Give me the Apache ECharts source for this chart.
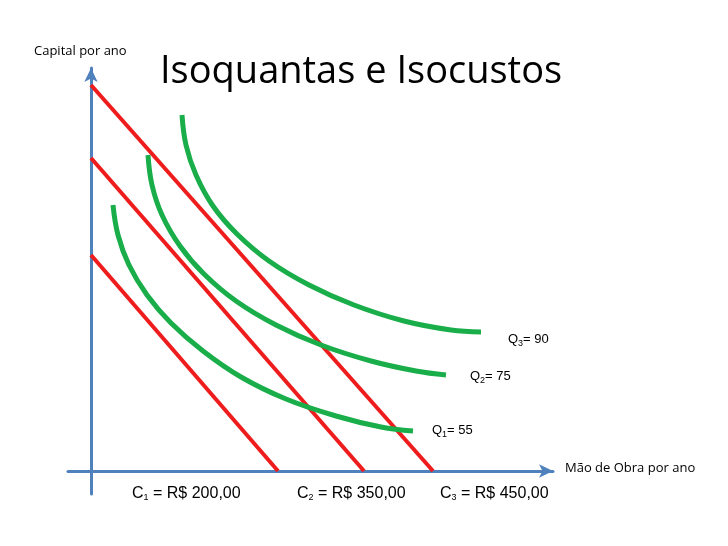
<!DOCTYPE html>
<html>
<head>
<meta charset="utf-8">
<title>Isoquantas e Isocustos</title>
<script src="https://cdn.jsdelivr.net/npm/echarts@6/dist/echarts.min.js"></script>
</head>
<body style="margin:0;background:#fff">
<div id="main" style="width:728px;height:546px;"></div>
<script type="text/javascript">
// isocost lines [x,y] endpoints
var isoC1 = [[0, 216], [187, 0]];
var isoC2 = [[0, 313], [273, 0]];
var isoC3 = [[0, 386], [342, 0]];
// isoquants
var isoQ1 = [[22,266],[27,236],[38,206],[56,176],[80,148],[112,120],[150,94],[195,72],[245,55],[290,44],[322,40]];
var isoQ2 = [[57,316],[61,286],[71,256],[89,225],[113,197],[145,170],[185,146],[230,126],[280,110],[325,100],[355,96]];
var isoQ3 = [[91,356],[95,326],[105,296],[122,265],[146,237],[178,210],[218,186],[263,166],[313,150],[360,141],[390,139]];

var blue = '#4f81bd', red = '#ee1c1c', green = '#1aae4a';
var chart = echarts.init(document.getElementById('main'));

function redLine(d) { return {type:'line', data:d, symbol:'none', lineStyle:{color:red, width:4}}; }
function greenLine(d) { return {type:'line', data:d, symbol:'none', smooth:0.4, lineStyle:{color:green, width:5}}; }
function txt(x, y, rich, size, font) {
    return {type:'text', left:x, top:y, style:{text:rich, fontSize:size, fontFamily:font||'Liberation Sans', fill:'#000',
        rich:{s:{fontSize:9, fontFamily:'Liberation Sans', verticalAlign:'bottom', padding:[8,0,0,0]}}}};
}

chart.setOption({
    animation:false,
    grid:{left:68, top:68, width:485, height:426},
    xAxis:{type:'value', min:-23, max:462, axisLine:{onZero:true, lineStyle:{color:blue, width:3}, symbol:['none','arrow'], symbolSize:[10,14]},
        axisTick:{show:false}, axisLabel:{show:false}, splitLine:{show:false}},
    yAxis:{type:'value', min:-23, max:403, axisLine:{onZero:true, lineStyle:{color:blue, width:3}, symbol:['none','arrow'], symbolSize:[10,14]},
        axisTick:{show:false}, axisLabel:{show:false}, splitLine:{show:false}},
    series:[
        redLine(isoC1), redLine(isoC2), redLine(isoC3),
        greenLine(isoQ1), greenLine(isoQ2), greenLine(isoQ3)
    ],
    graphic:[
        txt(160, 53, 'Isoquantas e Isocustos', 38, 'Open Sans'),
        txt(34, 45, 'Capital por ano', 13, 'Open Sans'),
        txt(565, 462, 'Mão de Obra por ano', 13, 'Open Sans'),
        txt(508, 333, 'Q{s|3}= 90', 13),
        txt(470, 370, 'Q{s|2}= 75', 13),
        txt(432, 424, 'Q{s|1}= 55', 13),
        txt(132, 486, 'C{s|1} = R$ 200,00', 16),
        txt(297, 486, 'C{s|2} = R$ 350,00', 16),
        txt(440, 486, 'C{s|3} = R$ 450,00', 16)
    ]
});
</script>
</body>
</html>
